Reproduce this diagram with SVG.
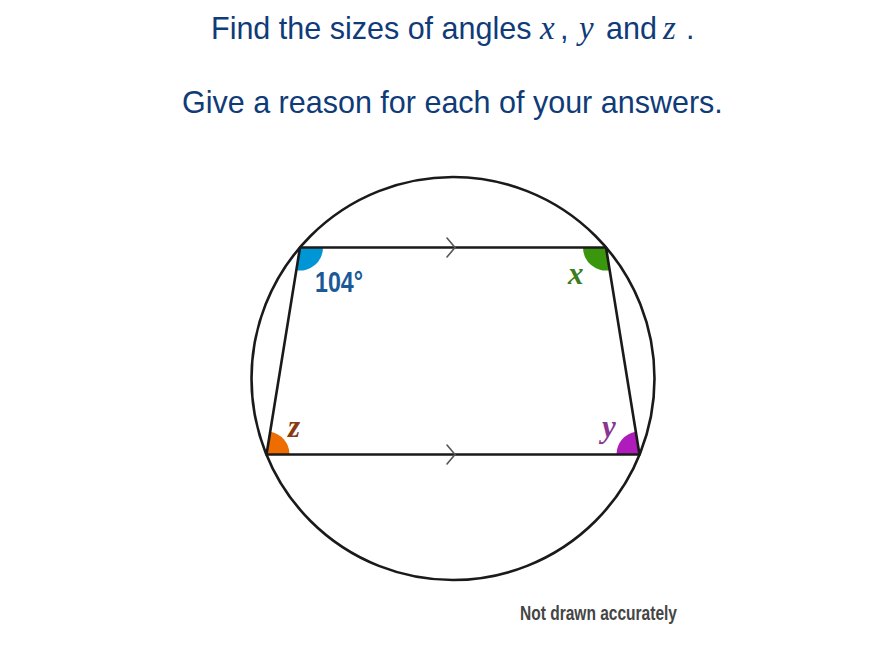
<svg xmlns="http://www.w3.org/2000/svg" width="894" height="671" viewBox="0 0 894 671">
  <style>
    .title { font-family: "Liberation Sans", Arial, sans-serif; font-size: 30.5px; fill: #0f3b78; }
    .math { font-family: "Liberation Serif", "Times New Roman", serif; font-style: italic; font-size: 33px; }
    .edge { stroke: #1a1a1a; stroke-width: 2.6; fill: none; stroke-linecap: round; stroke-linejoin: round; }
    .chev { stroke: #555555; stroke-width: 1.6; fill: none; stroke-linecap: round; stroke-linejoin: miter; }
    .lbl { font-family: "Liberation Serif", "Times New Roman", serif; font-style: italic; font-weight: bold; font-size: 31px; }
    .cond { font-family: "Liberation Sans", Arial, sans-serif; font-weight: bold; }
  </style>
  <rect width="894" height="671" fill="#ffffff"/>

  <g id="title">
    <text class="title" y="39">
      <tspan x="211">Find the sizes of angles</tspan><tspan x="540" class="math">x</tspan><tspan x="560">,</tspan><tspan x="579" class="math">y</tspan><tspan x="606">and</tspan><tspan x="663" class="math">z</tspan><tspan x="686">.</tspan>
    </text>
    <text class="title" x="182" y="113">Give a reason for each of your answers.</text>
  </g>

  <g id="angle-marks">
    <path id="angle-104" d="M300,247.5 L323,247.5 A23,23 0 0 1 296.3,270.2 Z" fill="#0095d4"/>
    <path id="angle-x" d="M606,247.5 L609.7,270.2 A23,23 0 0 1 583,247.5 Z" fill="#3a960c"/>
    <path id="angle-z" d="M266.5,454.5 L270.2,431.8 A23,23 0 0 1 289.5,454.5 Z" fill="#ee6d00"/>
    <path id="angle-y" d="M639.5,454.5 L616.5,454.5 A23,23 0 0 1 635.8,431.8 Z" fill="#b01cbc"/>
  </g>

  <g id="connectors">
    <circle id="circle" cx="453" cy="378.5" r="201.5" class="edge"/>
    <path id="quadrilateral" d="M300,247.5 L606,247.5 L639.5,454.5 L266.5,454.5 Z" class="edge"/>
    <path id="parallel-top" d="M447,238 L455,247.5 L447,257" class="chev"/>
    <path id="parallel-bottom" d="M447,445 L455,454.5 L447,464" class="chev"/>
  </g>

  <g id="labels">
    <text class="cond" x="315" y="292" font-size="29" fill="#1b5a97" textLength="48" lengthAdjust="spacingAndGlyphs">104°</text>
    <text class="lbl" x="568" y="284" fill="#3d7d1b">x</text>
    <text class="lbl" x="602" y="437" fill="#8a3590">y</text>
    <text class="lbl" x="288" y="437" fill="#8a3a10">z</text>
  </g>

  <g id="note">
    <text class="cond" x="520" y="620" font-size="21" fill="#454545" textLength="157" lengthAdjust="spacingAndGlyphs">Not drawn accurately</text>
  </g>
</svg>
